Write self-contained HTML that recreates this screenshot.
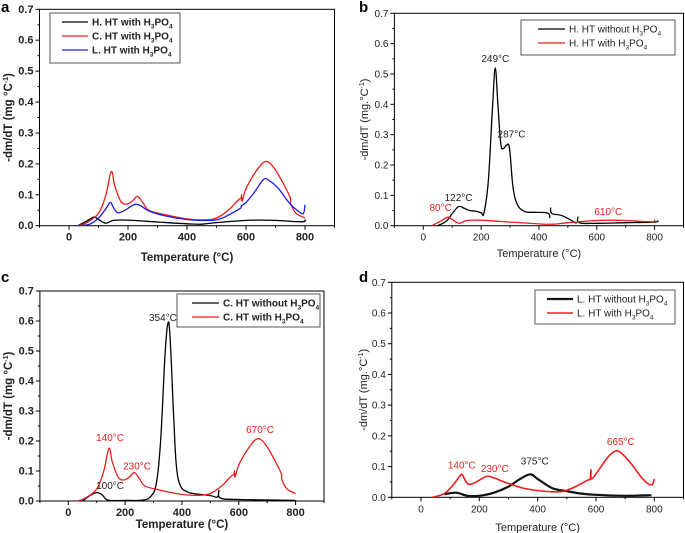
<!DOCTYPE html>
<html><head><meta charset="utf-8"><style>
html,body{margin:0;padding:0;background:#fff;}
svg{display:block;font-family:"Liberation Sans",Arial,sans-serif;}
</style></head><body>
<svg id="fig" width="685" height="533" viewBox="0 0 685 533" xmlns="http://www.w3.org/2000/svg"></svg>
<script>
// ---- data (temperature °C, -dm/dT) ----
const xTicks = [0, 200, 400, 600, 800];
const yTicks = [0.0, 0.1, 0.2, 0.3, 0.4, 0.5, 0.6, 0.7];
const yTickLabels = ["0.0","0.1","0.2","0.3","0.4","0.5","0.6","0.7"];

const hWithT = [30,60,85,100,125,150,200,300,400,450,500,600,650,700,790,800];
const hWithV = [0,0.015,0.028,0.02,0.008,0.017,0.018,0.012,0.006,0.005,0.01,0.017,0.018,0.017,0.013,0.02];

const cWithT = [30,60,100,125,143,155,175,195,215,232,250,270,320,400,460,500,540,570,583,585,587,600,630,660,680,700,730,750,752,770,800];
const cWithV = [0,0.01,0.04,0.1,0.175,0.13,0.08,0.07,0.08,0.095,0.075,0.05,0.037,0.022,0.019,0.025,0.05,0.08,0.09,0.1,0.08,0.12,0.17,0.205,0.203,0.18,0.13,0.09,0.07,0.04,0.025];

const lWithT = [30,70,100,125,140,150,165,190,220,240,270,320,400,480,520,570,583,585,600,630,660,680,710,750,780,795,800];
const lWithV = [0,0.005,0.025,0.055,0.075,0.06,0.042,0.05,0.068,0.066,0.048,0.033,0.02,0.017,0.025,0.05,0.058,0.065,0.075,0.11,0.15,0.145,0.12,0.07,0.045,0.04,0.068];

const hWithoutT = [50,80,100,122,140,160,180,200,210,225,240,249,258,268,278,287,298,310,325,350,380,430,438,null,440,445,480,530,null,535,540,600,700,800,810];
const hWithoutV = [0,0.015,0.04,0.063,0.058,0.05,0.048,0.043,0.042,0.15,0.4,0.52,0.4,0.27,0.255,0.265,0.255,0.13,0.07,0.047,0.044,0.042,0.025,null,0.06,0.04,0.033,0.008,null,0.03,0.01,0.008,0.01,0.012,0.017];

const dLWithT = [40,80,110,130,140,152,165,190,225,250,300,350,400,450,490,530,570,580,583,585,610,640,665,685,720,760,790,800];
const dLWithV = [0,0.012,0.04,0.065,0.075,0.055,0.042,0.05,0.068,0.063,0.045,0.03,0.022,0.018,0.02,0.035,0.055,0.06,0.09,0.06,0.09,0.13,0.15,0.145,0.11,0.06,0.04,0.06];

const cWithoutT = [50,80,100,120,140,200,260,290,310,325,340,350,358,370,380,395,420,440,500,525,530,535,600,800];
const cWithoutV = [0,0.02,0.028,0.02,0.003,0.002,0.003,0.015,0.06,0.2,0.48,0.59,0.55,0.3,0.12,0.05,0.03,0.025,0.018,0.013,0.035,0.01,0.005,0.002];

const lWithoutT = [80,120,160,200,250,300,340,375,400,450,500,550,600,700,790];
const lWithoutV = [0.01,0.015,0.005,0.005,0.015,0.035,0.06,0.075,0.06,0.03,0.02,0.012,0.008,0.005,0.007];

// ---- rendering ----
const NS = "http://www.w3.org/2000/svg";
const fig = document.getElementById('fig');
function mk(tag, attrs, parent, text){
  const e = document.createElementNS(NS, tag);
  for (const k in attrs) e.setAttribute(k, attrs[k]);
  if (text !== undefined) e.textContent = text;
  (parent||fig).appendChild(e);
  return e;
}
function smoothPath(pts){
  if (pts.length < 2) return '';
  let d = 'M' + pts[0][0].toFixed(1) + ',' + pts[0][1].toFixed(1);
  const k = 0.18;
  for (let i = 0; i < pts.length - 1; i++){
    const p0 = pts[Math.max(0,i-1)], p1 = pts[i], p2 = pts[i+1], p3 = pts[Math.min(pts.length-1,i+2)];
    const c1x = p1[0] + (p2[0]-p0[0])*k, c1y = p1[1] + (p2[1]-p0[1])*k;
    const c2x = p2[0] - (p3[0]-p1[0])*k, c2y = p2[1] - (p3[1]-p1[1])*k;
    d += 'C' + c1x.toFixed(1)+','+c1y.toFixed(1)+' '+c2x.toFixed(1)+','+c2y.toFixed(1)+' '+p2[0].toFixed(1)+','+p2[1].toFixed(1);
  }
  return d;
}
function panel(p){
  const g = mk('g', {});
  
  
  const xs = t => p.x0 + (t - (-100)) / 1000 * (p.x1 - p.x0);
  const ys = v => p.y1 - v / 0.7 * (p.y1 - p.y0);
  const fw = p.bold ? 'bold' : 'normal';
  const box = mk('rect', {x:p.x0, y:p.y0, width:p.x1-p.x0, height:p.y1-p.y0, fill:'none', stroke:'#000', 'stroke-width':1}, g);
  
  
  for (let t = -100; t <= 900; t += 100){
    const major = xTicks.includes(t);
    mk('line', {x1:xs(t), x2:xs(t), y1:p.y1, y2:p.y1 + (major?4:2), stroke:'#000','stroke-width':1}, g);
  }
  xTicks.forEach(t => {
    const lb = mk('text', {x:xs(t), y:p.y1+15, 'font-size':p.bold?11:10, 'font-weight':fw, 'text-anchor':'middle', fill:'#222'}, g, String(t));
    
    
  });
  for (let i = 0; i <= 14; i++){
    const v = i*0.05, major = i%2===0;
    mk('line', {x1:p.x0 - (major?4:2), x2:p.x0, y1:ys(v), y2:ys(v), stroke:'#000','stroke-width':1}, g);
  }
  yTicks.forEach((v,i) => {
    const lb = mk('text', {x:p.x0-6, y:ys(v)+3.5, 'font-size':p.bold?11:10, 'font-weight':fw, 'text-anchor':'end', fill:'#222'}, g, yTickLabels[i]);
    
    
  });
  const xl = mk('text', {x:(p.x0+p.x1)/2, y:p.xly, 'font-size':p.bold?11.5:11, 'font-weight':fw, 'text-anchor':'middle', fill:'#222'}, g, 'Temperature (°C)');
  
  
  const yl = mk('text', {x:0, y:0, 'font-size':p.bold?11.5:11, 'font-weight':fw, 'text-anchor':'middle', fill:'#222', transform:`translate(${p.ylx},${(p.y0+p.y1)/2}) rotate(-90)`}, g);
  
  
  yl.innerHTML = p.ylab;
  const pl = mk('text', {x:p.lx, y:p.ly, 'font-size':15, 'font-weight':'bold', fill:'#000'}, g, p.id);
  
  
  p.series.forEach(s => {
    let d = '', seg = [];
    s.t.forEach((t,i) => {
      if (t === null){ d += smoothPath(seg); seg = []; return; }
      seg.push([xs(t), ys(s.v[i])]);
    });
    d += smoothPath(seg);
    const path = mk('path', {d:d, fill:'none', stroke:s.c, 'stroke-width':s.w||1.3, 'stroke-linejoin':'round'}, g);
    
    
  });
  (p.ann||[]).forEach(a => {
    const at = mk('text', {x:xs(a.t), y:ys(a.v), 'font-size':10, 'text-anchor':'middle', fill:a.c}, g, a.s);
    
    
  });
  const L = p.leg;
  const lg = mk('g', {}, g);
  
  
  mk('rect', {x:L.x, y:L.y, width:L.w, height:L.h, fill:'#fff', stroke:'#555', 'stroke-width':1}, lg);
  p.series.forEach((s,i) => {
    const yy = L.y + 9 + i*L.dy;
    mk('line', {x1:L.x+L.l1, x2:L.x+L.l2, y1:yy, y2:yy, stroke:s.c, 'stroke-width':s.lw||s.w||1.3}, lg);
    const tx = mk('text', {x:L.x+L.l2+4, y:yy+3.5, 'font-size':p.bold?10:10, 'font-weight':fw, fill:'#222'}, lg);
    
    
    tx.innerHTML = s.lab + ' H<tspan font-size="6.5" dy="3">3</tspan><tspan dy="-3">PO</tspan><tspan font-size="6.5" dy="3">4</tspan>';
  });
}
const blk='#000', red='#ee1c1c', blu='#1c1cee';
panel({id:'a', x0:39.5, x1:334.5, y0:9.3, y1:225.7, bold:true, xly:261, ylx:12, lx:1, ly:12,
  ylab:'-dm/dT (mg °C<tspan font-size="7" dy="-4">-1</tspan><tspan dy="4">)</tspan>',
  series:[{name:'h-with', t:hWithT, v:hWithV, c:blk, lab:'H. HT with'},
          {name:'c-with', t:cWithT, v:cWithV, c:red, lab:'C. HT with'},
          {name:'l-with', t:lWithT, v:lWithV, c:blu, lab:'L. HT with'}],
  leg:{x:50, y:13, w:130, h:50, dy:14, l1:12, l2:38}});
panel({id:'b', x0:394.4, x1:683.5, y0:13.3, y1:225.7, bold:false, xly:257, ylx:368, lx:359, ly:12,
  ylab:'-dm/dT (mg.°C<tspan font-size="7" dy="-4">-1</tspan><tspan dy="4">)</tspan>',
  series:[{name:'h-without', t:hWithoutT, v:hWithoutV, c:blk, lab:'H. HT without'},
          {name:'h-with', t:hWithT, v:hWithV, c:red, lab:'H. HT with'}],
  leg:{x:521, y:20, w:154, h:35, dy:14, l1:17, l2:44},
  ann:[{t:249,v:0.54,s:'249°C',c:'#222'},{t:305,v:0.29,s:'287°C',c:'#222'},{t:122,v:0.082,s:'122°C',c:'#222'},
       {t:60,v:0.048,s:'80°C',c:red},{t:640,v:0.035,s:'610°C',c:red}]});
panel({id:'c', x0:39.9, x1:324, y0:291, y1:501, bold:true, xly:528, ylx:12, lx:1, ly:282,
  ylab:'-dm/dT (mg °C<tspan font-size="7" dy="-4">-1</tspan><tspan dy="4">)</tspan>',
  series:[{name:'c-without', t:cWithoutT, v:cWithoutV, c:blk, lab:'C. HT without'},
          {name:'c-with', t:cWithT, v:cWithV, c:red, lab:'C. HT with'}],
  leg:{x:177, y:294, w:143, h:33, dy:14, l1:15, l2:42},
  ann:[{t:333,v:0.60,s:'354°C',c:'#222'},{t:147,v:0.2,s:'140°C',c:red},{t:242,v:0.105,s:'230°C',c:red},
       {t:147,v:0.04,s:'100°C',c:'#222'},{t:675,v:0.227,s:'670°C',c:red}]});
panel({id:'d', x0:391.8, x1:683.5, y0:282.3, y1:497.3, bold:false, xly:531, ylx:367, lx:359, ly:282,
  ylab:'-dm/dT (mg.°C<tspan font-size="7" dy="-4">-1</tspan><tspan dy="4">)</tspan>',
  series:[{name:'l-without', t:lWithoutT, v:lWithoutV, c:'#111', w:2.2, lw:2.2, lab:'L. HT without'},
          {name:'l-with', t:dLWithT, v:dLWithV, c:red, w:1.6, lab:'L. HT with'}],
  leg:{x:535, y:290, w:140, h:34, dy:14, l1:12, l2:38},
  ann:[{t:140,v:0.093,s:'140°C',c:red},{t:253,v:0.083,s:'230°C',c:red},{t:390,v:0.106,s:'375°C',c:'#222'},
       {t:685,v:0.17,s:'665°C',c:red}]});
</script>
</body></html>
